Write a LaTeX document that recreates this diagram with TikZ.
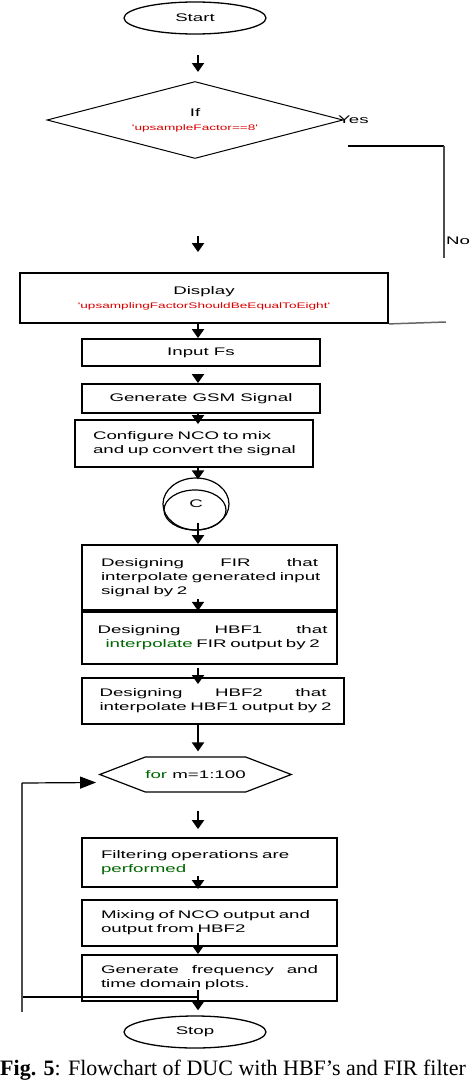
\documentclass[tikz,border=0pt]{standalone}
\usepackage{fontspec}
\setmainfont{Liberation Serif}
\newfontfamily\boxfont[FakeStretch=1.7]{Liberation Sans}
\usetikzlibrary{arrows.meta,calc,shapes.geometric,shapes.symbols}
\colorlet{strred}{red!85!black}
\colorlet{markgreen}{green!40!black}
\hyphenpenalty=10000

\begin{document}
\begin{tikzpicture}[x=1pt,y=-1pt]
	\tikzstyle{every node}=[font=\boxfont\fontsize{11}{14}\selectfont]
	\tikzstyle{terminal}=[draw,ellipse,line width=1.3pt,minimum width=142,minimum height=32,inner sep=0pt]
	\tikzstyle{box}=[draw,rectangle,line width=1.8pt,inner ysep=0pt]
	\tikzstyle{flow}=[draw,line width=2pt,-{Triangle[width=12pt,length=9pt]}]
	\tikzstyle{wire}=[draw,line width=1.2pt]
	\tikzstyle{rail}=[draw,line width=2.6pt,black!70]
	\newcommand{\str}[1]{{\color{strred}\fontsize{8}{10}\selectfont #1}}

	\useasboundingbox (0,0) rectangle (474,1084);
	\coordinate (spine) at (198,0);

	% main column
	\node[terminal] (start) at (195,18) {Start};
	\node[draw,diamond,aspect=3.8,line width=1pt,minimum width=296,minimum height=77,inner sep=0pt,align=center] (dec) at (195,120) {If\\\str{'upsampleFactor==8'}};
	\node[anchor=west,inner sep=0pt] (yes) at (338,120) {Yes};
	\node[inner sep=0pt] (no) at (458,241) {No};
	\node[box,minimum width=368,minimum height=50,align=center] (disp) at (204,298) {Display\\\str{'upsamplingFactorShouldBeEqualToEight'}};
	\node[box,minimum width=238,minimum height=27] (inp) at (201,352.5) {Input Fs};
	\node[box,text width=202,inner xsep=18,minimum height=47,align=left] (nco) at (194,443.5) {Configure NCO to mix\\\mbox{and up convert the signal}};
	\node[box,minimum width=238,minimum height=29] (gsm) at (201,398.5) {Generate GSM Signal};
	\node[draw,ellipse,line width=1.2pt,minimum width=66,minimum height=52,inner sep=0pt] (conn) at (196,504) {C};
	\draw[line width=1.2pt] (195,510) ellipse (31 and 20);
	\node[box,text width=217,inner xsep=19,minimum height=65] (fir) at (209.5,577.5) {Designing\hfill FIR\hfill that\\\mbox{interpolate generated input}\\signal by 2};
	\node[box,line width=2.4pt,text width=236,inner xsep=9.5,minimum height=52] (hbf1) at (209.5,638) {\hspace*{6pt}Designing\hfill HBF1\hfill that\\\mbox{\hspace*{14pt}{\color{markgreen}interpolate} FIR output by 2}};
	\node[box,text width=227,inner xsep=17.5,minimum height=46] (hbf2) at (213,701) {Designing\hfill HBF2\hfill that\\\mbox{interpolate HBF1 output by 2}};
	\node[draw,signal,signal to=west and east,signal pointer angle=42,line width=1.2pt,minimum width=189,minimum height=35,inner sep=0pt] (loop) at (195.5,774.5) {{\color{markgreen}for} m=1:100};
	\node[box,text width=217,inner xsep=19,minimum height=49,align=left] (filt) at (209.5,862.5) {Filtering operations are\\{\color{markgreen}performed}};
	\node[box,text width=217,inner xsep=19,minimum height=46,align=left] (mix) at (209.5,923) {\mbox{Mixing of NCO output and}\\output from HBF2};
	\node[box,text width=217,inner xsep=19,minimum height=46] (plots) at (209.5,978) {Generate\hfill frequency\hfill and\\time domain plots.};
	\node[terminal] (stop) at (195,1032) {Stop};
	\node[font=\rmfamily\fontsize{22}{26}\selectfont,anchor=west,inner sep=0pt] (cap) at (0,1070) {\textbf{Fig. 5}: Flowchart of DUC with HBF’s and FIR filter};

	% flow arrows
	\draw[flow] ($(start.south -| spine)+(0,20)$) -- ($(dec.north -| spine)+(0,-9)$);
	\draw[flow] ($(dec.south -| spine)+(0,77)$) -- ($(disp.north -| spine)+(0,-20)$);
	\draw[flow] (disp.south -| spine) -- (inp.north -| spine);
	\draw[flow] ($(inp.south -| spine)+(0,9)$) -- (gsm.north -| spine);
	\draw[flow] (gsm.south -| spine) -- ($(nco.north -| spine)+(0,5)$);
	\draw[flow] (nco.south -| spine) -- ($(conn.north -| spine)+(0,2)$);
	\draw[flow] ($(conn.south -| spine)+(0,-8)$) -- (fir.north -| spine);
	\draw[flow] ($(fir.south -| spine)+(0,-12)$) -- (hbf1.north -| spine);
	\draw[flow] ($(hbf1.south -| spine)+(0,3)$) -- ($(hbf2.north -| spine)+(0,7)$);
	\draw[flow] (hbf2.south -| spine) -- ($(loop.north -| spine)+(0,-5)$);
	\draw[flow] ($(loop.south -| spine)+(0,18)$) -- ($(filt.north -| spine)+(0,-8)$);
	\draw[flow] ($(filt.south -| spine)+(0,-12)$) -- ($(mix.north -| spine)+(0,-10)$);
	\draw[flow] ($(mix.south -| spine)+(0,-14)$) -- (plots.north -| spine);
	\draw[flow] ($(plots.south -| spine)+(0,-12)$) -- ($(stop.north -| spine)+(0,-5)$);

	% yes / no branch
	\coordinate (yesend) at (348,146);
	\coordinate (noturn) at (444,146);
	\coordinate (noend) at (444,258);
	\coordinate (dispend) at (446,322);
	\draw[wire] (yesend) -- (noturn);
	\draw[rail] (noturn) -- (noend);
	\draw[line width=1.5pt,black!60] (disp.south east) -- (dispend);

	% loop back
	\coordinate (tap) at (198,997);
	\coordinate (lowleft) at (22,997);
	\coordinate (bottomend) at (22,1012);
	\coordinate (upleft) at (22,783);
	\draw[wire] (tap) -- (lowleft);
	\draw[rail] (bottomend) -- (upleft);
	\draw[wire,-{Triangle[width=12pt,length=16pt]}] (upleft) -- ($(loop.west)+(-2,8)$);
\end{tikzpicture}
\end{document}
